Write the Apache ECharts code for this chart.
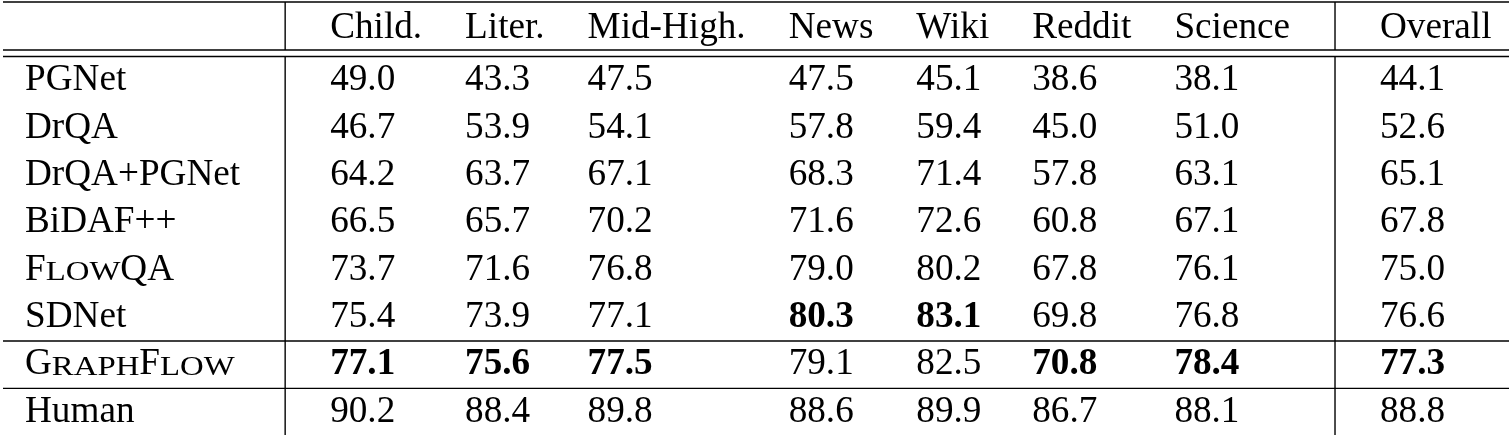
<!DOCTYPE html>
<html><head><meta charset="utf-8">
<script src="https://cdn.jsdelivr.net/npm/echarts@6/dist/echarts.min.js"></script>
<style>html,body{margin:0;padding:0;background:#fff}#c{width:1512px;height:440px}</style>
</head><body><div id="c"></div>
<script>
// ---------- data ----------
const columns = ['Child.', 'Liter.', 'Mid-High.', 'News', 'Wiki', 'Reddit', 'Science', 'Overall'];
const models = ['PGNet', 'DrQA', 'DrQA+PGNet', 'BiDAF++', 'FlowQA', 'SDNet', 'GraphFlow', 'Human'];
const PGNet      = [49.0, 43.3, 47.5, 47.5, 45.1, 38.6, 38.1, 44.1];
const DrQA       = [46.7, 53.9, 54.1, 57.8, 59.4, 45.0, 51.0, 52.6];
const DrQA_PGNet = [64.2, 63.7, 67.1, 68.3, 71.4, 57.8, 63.1, 65.1];
const BiDAF      = [66.5, 65.7, 70.2, 71.6, 72.6, 60.8, 67.1, 67.8];
const FlowQA     = [73.7, 71.6, 76.8, 79.0, 80.2, 67.8, 76.1, 75.0];
const SDNet      = [75.4, 73.9, 77.1, 80.3, 83.1, 69.8, 76.8, 76.6];
const GraphFlow  = [77.1, 75.6, 77.5, 79.1, 82.5, 70.8, 78.4, 77.3];
const Human      = [90.2, 88.4, 89.8, 88.6, 89.9, 86.7, 88.1, 88.8];
const scores = [PGNet, DrQA, DrQA_PGNet, BiDAF, FlowQA, SDNet, GraphFlow, Human];
const smallCapsNames = ['FlowQA', 'GraphFlow'];
const humanRow = 'Human';

// ---------- layout / style ----------
const FONT = '"Liberation Serif", "Times New Roman", serif';
const FS = 37.2;
const TEXT_SY = 1;
const SC_RATIO = 0.76;
const SC_SX = 1.16;
const MID_C = 0.3375;
const TABLE_LEFT = 3, TABLE_RIGHT = 1509;
const PAD_LEFT = 22;
const GAP_TEXT = 43;
const GAP_RULE = 45;
const RULE_AFTER = [0, 7];
const Y_MIN = -0.705, Y_MAX = 8.591;
const HEADER_Y = -0.11;
const Y_TOP = -0.663, Y_HEAD_A = 0.351, Y_HEAD_B = 0.489, Y_BOTTOM = 8.483;
const H_RULES = [Y_TOP, Y_HEAD_A, Y_HEAD_B, 6.5, 7.5];
const LINE_W = 1.4;

const ctx = document.createElement('canvas').getContext('2d');
function measure(text, bold, size) {
  ctx.font = (bold ? 'bold ' : '') + size + 'px ' + FONT;
  return ctx.measureText(text).width;
}
function segments(name) {
  if (smallCapsNames.indexOf(name) < 0) return [{ t: name, s: 'n' }];
  const out = []; const re = /[A-Z]+|[^A-Z]+/g; let m;
  while ((m = re.exec(name))) {
    const s = m[0];
    if (/[A-Z]/.test(s[0])) out.push({ t: s, s: 'n' });
    else out.push({ t: s.toUpperCase(), s: 'sc' });
  }
  return out;
}
function segW(g) {
  return g.s === 'sc' ? measure(g.t, false, FS * SC_RATIO) * SC_SX : measure(g.t, g.s === 'b', FS);
}
const best = columns.map((_, c) => Math.max(...scores.filter((_, r) => models[r] !== humanRow).map(row => row[c])));
function cellSegs(c, r) {
  if (c === 0 && r === 0) return [];
  if (r === 0) return [{ t: columns[c - 1], s: 'n' }];
  if (c === 0) return segments(models[r - 1]);
  const v = scores[r - 1][c - 1];
  const bold = models[r - 1] !== humanRow && v === best[c - 1];
  return [{ t: v.toFixed(1), s: bold ? 'b' : 'n' }];
}
const nCols = columns.length + 1;
const colWidth = [];
for (let c = 0; c < nCols; c++) {
  let w = 0;
  for (let r = 0; r <= models.length; r++) w = Math.max(w, cellSegs(c, r).reduce((a, g) => a + segW(g), 0));
  colWidth.push(w);
}
const colLeft = [TABLE_LEFT + PAD_LEFT];
const vRuleX = [];
for (let c = 1; c < nCols; c++) {
  const end = colLeft[c - 1] + colWidth[c - 1];
  if (RULE_AFTER.indexOf(c - 1) >= 0) {
    const rx = end + GAP_RULE; vRuleX.push(rx); colLeft.push(rx + GAP_RULE);
  } else colLeft.push(end + GAP_TEXT);
}

const cellData = [];
for (let r = 0; r <= models.length; r++)
  for (let c = 0; c < nCols; c++)
    if (!(c === 0 && r === 0)) cellData.push([c, r]);

const ruleData = [];
H_RULES.forEach(y => ruleData.push([TABLE_LEFT, y, TABLE_RIGHT, y]));
vRuleX.forEach(x => { ruleData.push([x, Y_TOP, x, Y_HEAD_A]); ruleData.push([x, Y_HEAD_B, x, Y_BOTTOM]); });

const chart = echarts.init(document.getElementById('c'), null, { renderer: 'canvas' });
chart.setOption({
  animation: false,
  backgroundColor: '#fff',
  grid: { left: 0, right: 0, top: 0, bottom: 0 },
  xAxis: { type: 'value', min: 0, max: 1512, show: false },
  yAxis: { type: 'value', min: Y_MIN, max: Y_MAX, inverse: true, show: false },
  series: [
    {
      type: 'custom', silent: true, data: ruleData, encode: { x: [0, 2], y: [1, 3] },
      renderItem: (p, api) => {
        const a = api.coord([api.value(0), api.value(1)]);
        const b = api.coord([api.value(2), api.value(3)]);
        return { type: 'line', shape: { x1: a[0], y1: a[1], x2: b[0], y2: b[1] },
                 style: { stroke: '#000', lineWidth: LINE_W } };
      }
    },
    {
      type: 'custom', silent: true, data: cellData, encode: { x: 0, y: 1 },
      renderItem: (p, api) => {
        const c = api.value(0), r = api.value(1);
        const pt = api.coord([colLeft[c], r === 0 ? HEADER_Y : r]);
        const segs = cellSegs(c, r);
        let off = 0;
        const children = segs.map(g => {
          const sc = g.s === 'sc';
          const size = sc ? FS * SC_RATIO : FS;
          const el = { type: 'text', x: off, y: sc ? MID_C * (FS - size) : 0, scaleX: sc ? SC_SX : 1,
            style: { text: g.t, fontFamily: FONT, fontSize: size, fontWeight: g.s === 'b' ? 'bold' : 'normal',
                     fill: '#000', align: 'left', verticalAlign: 'middle' } };
          off += segW(g);
          return el;
        });
        return { type: 'group', x: pt[0], y: pt[1], scaleY: TEXT_SY, children: children };
      }
    }
  ]
});
</script></body></html>
